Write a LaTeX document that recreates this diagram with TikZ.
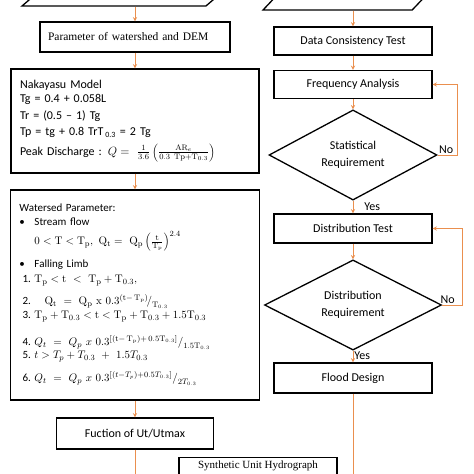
\documentclass[tikz,border=0pt]{standalone}
\usepackage[no-math]{fontspec}
\setmainfont{Carlito}
\newfontfamily\timesfont{Liberation Serif}
\usetikzlibrary{shapes.geometric}
\definecolor{flow}{RGB}{234,143,78}
\newcommand{\fixskip}{\lineskiplimit=-20pt\relax}

\tikzstyle{io} = [draw, trapezium, trapezium left angle=70, trapezium right angle=110, trapezium stretches=true, line width=1.3pt, minimum height=42pt]
\tikzstyle{block} = [draw, rectangle, line width=1.3pt, minimum width=158pt, minimum height=28pt, font=\fontsize{12}{14}\selectfont]
\tikzstyle{sblock} = [block, font=\fontsize{11}{13}\timesfont]
\tikzstyle{decision} = [draw, diamond, line width=1.3pt, inner sep=0pt, align=center, font=\fontsize{12}{16.5}\selectfont]
\tikzstyle{bigbox} = [draw, rectangle, line width=1.3pt, align=left, inner sep=9pt]
\tikzstyle{flowline} = [draw=flow, line width=0.9pt]
\tikzstyle{lbl} = [font=\fontsize{12}{14}\selectfont, inner sep=1pt]

\begin{document}
\begin{tikzpicture}[x=1pt, y=-1pt, >=stealth]
  \useasboundingbox (0,0) rectangle (474,474);
  \clip (0,0) rectangle (474,474);

  % left column
  \node[io, minimum width=233pt] (iol) at (138.5,-15) {};
  \node[sblock, minimum width=190pt, minimum height=30pt, text width=174pt, inner sep=8pt, align=left, font=\fontsize{11.5}{13}\timesfont] (param) at (135,37) {Parameter of watershed and DEM};
  \node[bigbox, text width=230pt, minimum height=104pt, font=\fontsize{12}{16}\selectfont, below of=param, node distance=84pt] (naka) {Nakayasu Model\\[-2pt]
    Tg = 0.4 + 0.058L\\[1pt]
    Tr = (0.5 -- 1) Tg\\
    Tp = tg + 0.8 TrT\,\textsubscript{0.3} = 2 Tg\\[4pt]
    Peak Discharge : $Q = \ \frac{1}{3.6}\left(\frac{\mathrm{AR}_e}{0.3\ \mathrm{Tp}+\mathrm{T}_{0.3}}\right)$};
  \node[bigbox, text width=231pt, minimum height=210pt, font=\fontsize{11}{14}\selectfont\fixskip, below of=naka, node distance=174pt] (water) {Watersed Parameter:\\
    \makebox[15pt][l]{\textbullet}Stream flow\\[5pt]
    \hspace*{15pt}$0<\mathrm{T}<\mathrm{T_p},\ \mathrm{Q_t} = \ \mathrm{Q_p}\left(\frac{\mathrm{t}}{\mathrm{T_p}}\right)^{2.4}$\\[9pt]
    \makebox[15pt][l]{\textbullet}Falling Limb\\[1pt]
    \hspace*{3pt}\makebox[12pt][l]{1.}$\mathrm{T_p} < \mathrm{t}\ <\ \mathrm{T_p} + \mathrm{T_{0.3}},$\\[8pt]
    \hspace*{3pt}\makebox[12pt][l]{2.}\hspace*{10pt}$\mathrm{Q_t}\ =\ \mathrm{Q_p}\ \mathrm{x}\ 0.3^{(\mathrm{t-\,T_p})}\!\big/_{\mathrm{T_{0.3}}}$\\
    \hspace*{3pt}\makebox[12pt][l]{3.}$\mathrm{T_p} + \mathrm{T_{0.3}} < \mathrm{t} < \mathrm{T_p} + \mathrm{T_{0.3}} + 1.5\mathrm{T_{0.3}}$\\[13pt]
    \hspace*{3pt}\makebox[12pt][l]{4.}$Q_t\ =\ Q_p\ x\ 0.3^{[(\mathrm{t-\,T_p})+\,0.5\mathrm{T_{0.3}}]}\big/_{1.5\mathrm{T_{0.3}}}$\\[-1pt]
    \hspace*{3pt}\makebox[12pt][l]{5.}$t > T_p + T_{0.3}\ +\ 1.5T_{0.3}$\\[9pt]
    \hspace*{3pt}\makebox[12pt][l]{6.}$Q_t\ =\ Q_p\ x\ 0.3^{[(t-T_p)+0.5T_{0.3}]}\big/_{2T_{0.3}}$};
  \node[block, minimum width=157pt, minimum height=31pt, below of=water, node distance=138.5pt] (fuct) {Fuction of Ut/Utmax};
  \node[sblock, minimum height=28pt, text height=8pt, text depth=14pt, anchor=north] (synth) at (258,457) {Synthetic Unit Hydrograph};

  % right column
  \node[io, minimum width=189pt] (ior) at (357.5,-11) {};
  \node[block] (data) at (353,41) {Data Consistency Test};
  \node[block, below of=data, node distance=43.5pt] (freq) {Frequency Analysis};
  \node[decision, minimum width=168pt, minimum height=76pt, below of=freq, node distance=70.5pt] (stat) {Statistical\\Requirement};
  \node[block, minimum height=29pt, below of=stat, node distance=73.5pt] (dist) {Distribution Test};
  \node[decision, minimum width=177pt, minimum height=80pt, below of=dist, node distance=76.5pt] (distreq) {Distribution\\Requirement};
  \node[block, minimum height=30pt, below of=distreq, node distance=73pt] (flood) {Flood Design};

  \draw[flowline,->] (iol.south -| param) -- (param);
  \draw[flowline,->] (param) -- (naka);
  \draw[flowline,->] (naka) -- (water);
  \draw[flowline,->] (water) -- (fuct);
  \draw[flowline,->] (fuct) |- ([yshift=-7pt]synth.west);

  \draw[flowline,->] (ior.south -| data) -- (data);
  \draw[flowline,->] (data) -- (freq);
  \draw[flowline,->] (freq) -- (stat);
  \draw[flowline,->] (stat) -- node[lbl, right, xshift=10pt]{Yes} (dist);
  \draw[flowline,->] (stat.east) node[lbl, above right]{No} -- ++(20,0) |- (freq);
  \draw[flowline,->] (dist) -- (distreq);
  \draw[flowline,->] (distreq) -- node[lbl, right, pos=0.45]{Yes} (flood);
  \draw[flowline,->] (distreq.east) node[lbl, above right, xshift=-3pt]{No} -- ++(20,0) |- (dist);
  \draw[flowline,->] (flood) |- ([yshift=-7pt]synth.east);
\end{tikzpicture}
\end{document}
